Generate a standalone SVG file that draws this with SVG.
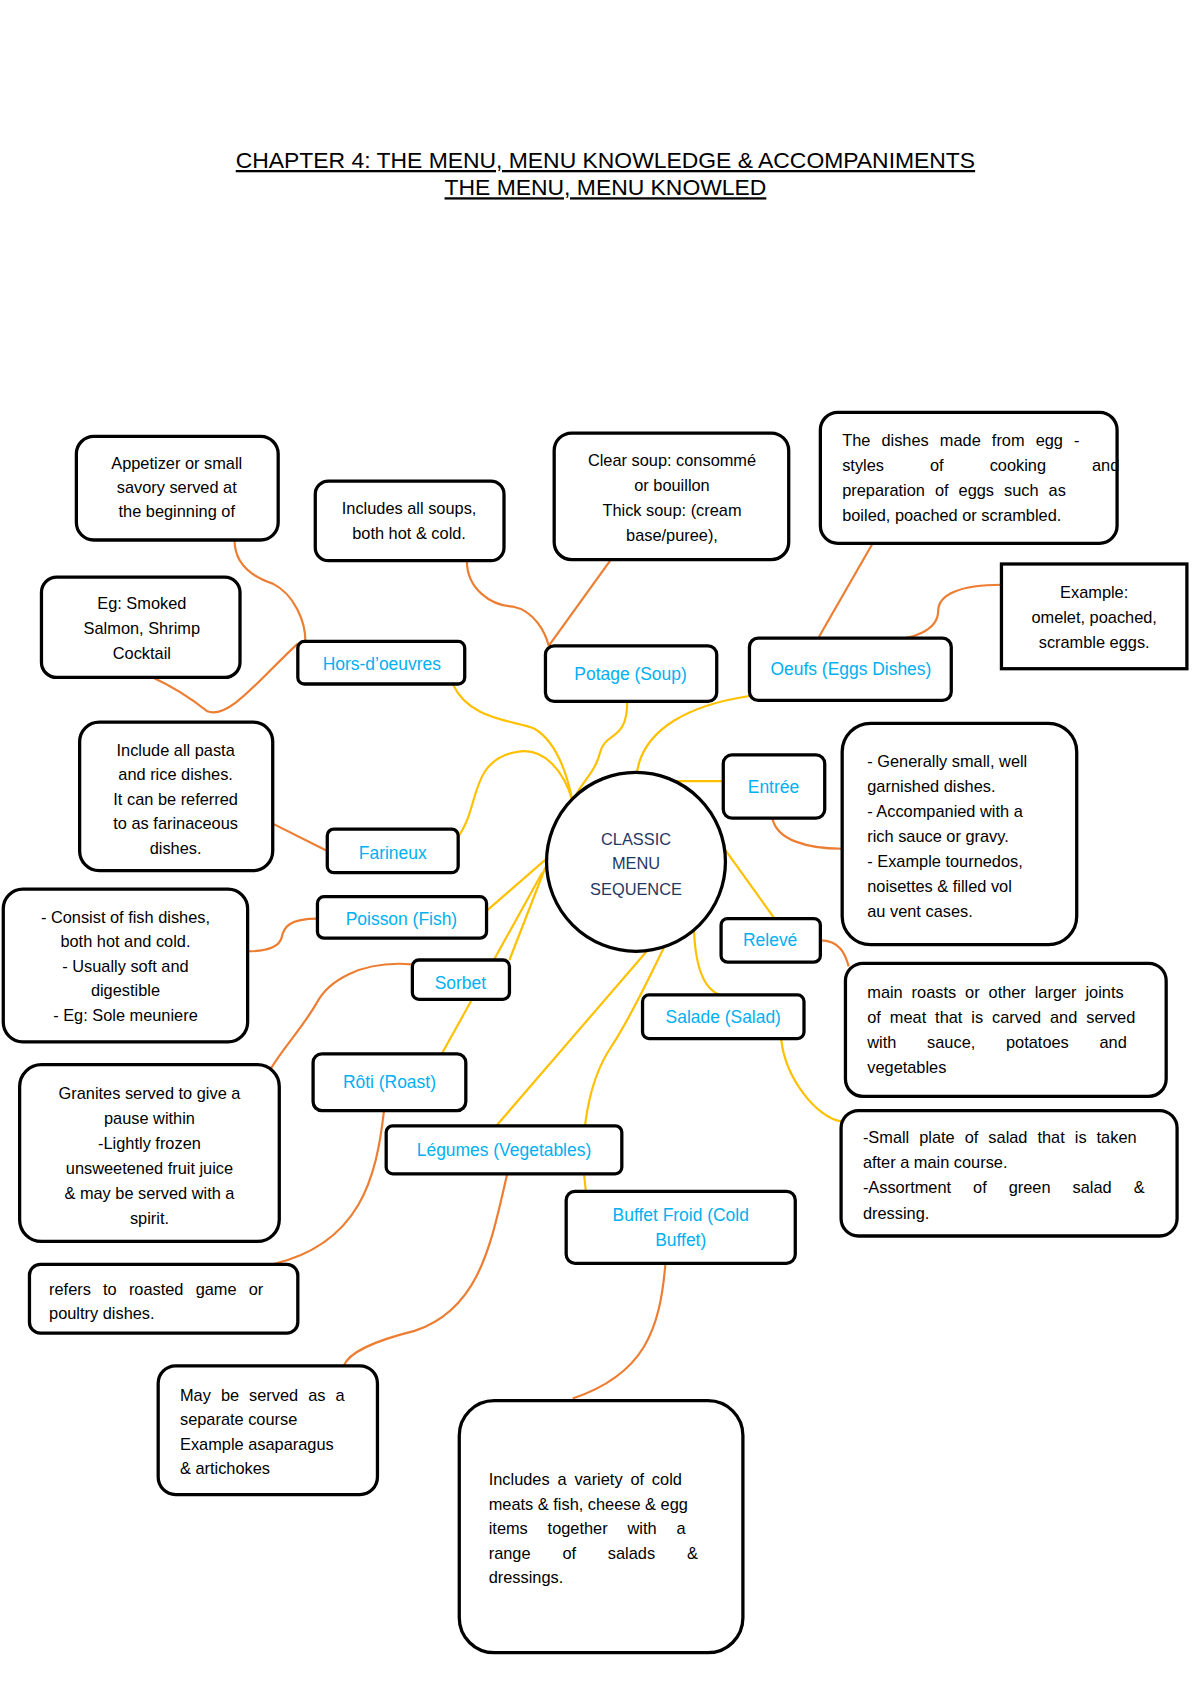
<svg xmlns="http://www.w3.org/2000/svg" width="1200" height="1696" viewBox="0 0 1200 1696">
<style>
text{font-family:"Liberation Sans",Arial,sans-serif;font-size:15px;fill:#000}
.c{text-anchor:middle}
.t{font-size:21px;text-anchor:middle;text-decoration:underline}
.lb{fill:#00b0f0;font-size:16px;text-anchor:middle}
.cn{fill:#1f3864;font-size:15px;text-anchor:middle}
.box{fill:#fff;stroke:#000;stroke-width:3}
.y{fill:none;stroke:#ffc000;stroke-width:2}
.o{fill:none;stroke:#ed7d31;stroke-width:2}
</style>
<rect width="1200" height="1696" fill="#fff"/>
<g transform="scale(1.0909)">
<g id="title">
<text class="t" x="555" y="154">CHAPTER 4: THE MENU, MENU KNOWLEDGE &amp; ACCOMPANIMENTS</text>
<text class="t" x="555" y="179">THE MENU, MENU KNOWLED</text>
</g>
<g id="connectors">
<path class="y" d="M415,627 C430,660 470,660 490,668 C510,680 520,710 525,735"/>
<path class="y" d="M420,767 C440,740 430,700 470,690 C500,682 518,710 525,735"/>
<path class="y" d="M575,643 C575,680 555,670 550,690 C545,710 530,720 525,735"/>
<path class="y" d="M687,638 C640,645 585,665 583,716"/>
<path class="y" d="M583,716 L663,716"/>
<path class="y" d="M664,778 L710,842"/>
<path class="y" d="M446,835 L500,788"/>
<path class="y" d="M467,880 L500,795"/>
<path class="y" d="M636,842 C636,870 640,905 660,912"/>
<path class="y" d="M405,966 L497,800"/>
<path class="y" d="M455,1032 L598,866"/>
<path class="y" d="M537,1092 C530,1040 540,990 560,960 C580,930 600,885 610,866"/>
<path class="y" d="M716,952 C720,990 750,1025 771,1028"/>
<path class="o" d="M215,495 C215,520 235,530 250,535 C270,545 280,570 280,588"/>
<path class="o" d="M140,621 C160,630 175,640 190,652 C210,660 240,620 273,590"/>
<path class="o" d="M428,514 C428,540 450,555 470,556 C490,560 500,580 503,592"/>
<path class="o" d="M560,513 L503,592"/>
<path class="o" d="M800,498 L750,585"/>
<path class="o" d="M918,536 C880,536 860,545 860,560 C860,580 830,585 830,585"/>
<path class="o" d="M250,755 L300,780"/>
<path class="o" d="M708,750 C712,770 740,778 772,778"/>
<path class="o" d="M291,842 C265,842 260,850 258,860 C255,870 240,872 227,872"/>
<path class="o" d="M378,884 C330,880 300,900 290,920 C275,945 260,960 248,980"/>
<path class="o" d="M752,862 C770,862 775,875 778,886"/>
<path class="o" d="M352,1018 C345,1080 330,1140 250,1159"/>
<path class="o" d="M465,1076 C450,1140 440,1200 380,1220 C340,1230 320,1240 315,1252"/>
<path class="o" d="M610,1158 C605,1220 590,1260 525,1282"/>
</g>
<g id="center"><circle cx="583" cy="790" r="82" fill="#fff" stroke="#000" stroke-width="3"/>
<text class="cn" x="583" y="775">CLASSIC</text><text class="cn" x="583" y="797">MENU</text><text class="cn" x="583" y="820">SEQUENCE</text></g>
<g id="hors"><rect class="box" x="273" y="588" width="153" height="39" rx="6"/><text class="lb" x="350" y="614">Hors-d’oeuvres</text></g>
<g id="potage"><rect class="box" x="500" y="592" width="157" height="51" rx="8"/><text class="lb" x="578" y="623">Potage (Soup)</text></g>
<g id="oeufs"><rect class="box" x="687" y="585" width="185" height="57" rx="8"/><text class="lb" x="780" y="619">Oeufs (Eggs Dishes)</text></g>
<g id="entree"><rect class="box" x="663" y="692" width="93" height="58" rx="8"/><text class="lb" x="709" y="727">Entrée</text></g>
<g id="farineux"><rect class="box" x="300" y="760" width="120" height="40" rx="6"/><text class="lb" x="360" y="787">Farineux</text></g>
<g id="poisson"><rect class="box" x="291" y="822" width="155" height="38" rx="6"/><text class="lb" x="368" y="848">Poisson (Fish)</text></g>
<g id="sorbet"><rect class="box" x="378" y="880" width="89" height="36" rx="6"/><text class="lb" x="422" y="907">Sorbet</text></g>
<g id="releve"><rect class="box" x="661" y="842" width="91" height="40" rx="6"/><text class="lb" x="706" y="867">Relevé</text></g>
<g id="salade"><rect class="box" x="589" y="912" width="148" height="40" rx="6"/><text class="lb" x="663" y="938">Salade (Salad)</text></g>
<g id="roti"><rect class="box" x="287" y="966" width="140" height="52" rx="8"/><text class="lb" x="357" y="997">Rôti (Roast)</text></g>
<g id="legumes"><rect class="box" x="354" y="1032" width="216" height="44" rx="6"/><text class="lb" x="462" y="1060">Légumes (Vegetables)</text></g>
<g id="buffet"><rect class="box" x="519" y="1092" width="210" height="66" rx="8"/><text class="lb" x="624" y="1119">Buffet Froid (Cold</text><text class="lb" x="624" y="1142">Buffet)</text></g>

<g id="d-appetizer"><rect class="box" x="70" y="400" width="185" height="95" rx="16"/>
<text class="c" x="162" y="430">Appetizer or small</text><text class="c" x="162" y="452">savory served at</text><text class="c" x="162" y="474">the beginning of</text></g>
<g id="d-soups"><rect class="box" x="289" y="441" width="173" height="73" rx="12"/>
<text class="c" x="375" y="471">Includes all soups,</text><text class="c" x="375" y="494">both hot &amp; cold.</text></g>
<g id="d-clear"><rect class="box" x="508" y="397" width="215" height="116" rx="16"/>
<text class="c" x="616" y="427">Clear soup: consommé</text><text class="c" x="616" y="450">or bouillon</text><text class="c" x="616" y="473">Thick soup: (cream</text><text class="c" x="616" y="496">base/puree),</text></g>
<g id="d-eggs"><rect class="box" x="752" y="378" width="272" height="120" rx="16"/>
<text x="772" y="409" word-spacing="6">The dishes made from egg -</text><text x="772" y="432" word-spacing="38">styles of cooking and</text><text x="772" y="455" word-spacing="5">preparation of eggs such as</text><text x="772" y="478">boiled, poached or scrambled.</text></g>
<g id="d-example"><rect x="918" y="517" width="170" height="96" fill="#fff" stroke="#000" stroke-width="3"/>
<text class="c" x="1003" y="548">Example:</text><text class="c" x="1003" y="571">omelet, poached,</text><text class="c" x="1003" y="594">scramble eggs.</text></g>
<g id="d-smoked"><rect class="box" x="38" y="529" width="182" height="92" rx="14"/>
<text class="c" x="130" y="558">Eg: Smoked</text><text class="c" x="130" y="581">Salmon, Shrimp</text><text class="c" x="130" y="604">Cocktail</text></g>
<g id="d-pasta"><rect class="box" x="73" y="662" width="177" height="136" rx="18"/>
<text class="c" x="161" y="693">Include all pasta</text><text class="c" x="161" y="715">and rice dishes.</text><text class="c" x="161" y="738">It can be referred</text><text class="c" x="161" y="760">to as farinaceous</text><text class="c" x="161" y="783">dishes.</text></g>
<g id="d-entree"><rect class="box" x="772" y="663" width="215" height="203" rx="26"/>
<text x="795" y="703">- Generally small, well</text><text x="795" y="726">garnished dishes.</text><text x="795" y="749">- Accompanied with a</text><text x="795" y="772">rich sauce or gravy.</text><text x="795" y="795">- Example tournedos,</text><text x="795" y="818">noisettes &amp; filled vol</text><text x="795" y="841">au vent cases.</text></g>
<g id="d-fish"><rect class="box" x="3" y="815" width="224" height="140" rx="18"/>
<text class="c" x="115" y="846">- Consist of fish dishes,</text><text class="c" x="115" y="868">both hot and cold.</text><text class="c" x="115" y="891">- Usually soft and</text><text class="c" x="115" y="913">digestible</text><text class="c" x="115" y="936">- Eg: Sole meuniere</text></g>
<g id="d-roasts"><rect class="box" x="775" y="883" width="294" height="122" rx="16"/>
<text x="795" y="915" word-spacing="4">main roasts or other larger joints</text><text x="795" y="938" word-spacing="4">of meat that is carved and served</text><text x="795" y="961" word-spacing="24">with sauce, potatoes and</text><text x="795" y="984">vegetables</text></g>
<g id="d-salad"><rect class="box" x="771" y="1018" width="308" height="115" rx="16"/>
<text x="791" y="1048" word-spacing="5">-Small plate of salad that is taken</text><text x="791" y="1071">after a main course.</text><text x="791" y="1094" word-spacing="16">-Assortment of green salad &amp;</text><text x="791" y="1117">dressing.</text></g>
<g id="d-granites"><rect class="box" x="18" y="976" width="238" height="162" rx="20"/>
<text class="c" x="137" y="1007">Granites served to give a</text><text class="c" x="137" y="1030">pause within</text><text class="c" x="137" y="1053">-Lightly frozen</text><text class="c" x="137" y="1076">unsweetened fruit juice</text><text class="c" x="137" y="1099">&amp; may be served with a</text><text class="c" x="137" y="1122">spirit.</text></g>
<g id="d-roasted"><rect class="box" x="27" y="1159" width="246" height="63" rx="10"/>
<text x="45" y="1187" word-spacing="7">refers to roasted game or</text><text x="45" y="1209">poultry dishes.</text></g>
<g id="d-veg"><rect class="box" x="145" y="1252" width="201" height="118" rx="16"/>
<text x="165" y="1284" word-spacing="5">May be served as a</text><text x="165" y="1306">separate course</text><text x="165" y="1329">Example asaparagus</text><text x="165" y="1351">&amp; artichokes</text></g>
<g id="d-buffet"><rect class="box" x="421" y="1284" width="260" height="231" rx="32"/>
<text x="448" y="1361" word-spacing="3">Includes a variety of cold</text><text x="448" y="1384">meats &amp; fish, cheese &amp; egg</text><text x="448" y="1406" word-spacing="14">items together with a</text><text x="448" y="1429" word-spacing="25">range of salads &amp;</text><text x="448" y="1451">dressings.</text></g>
</g>
</svg>
